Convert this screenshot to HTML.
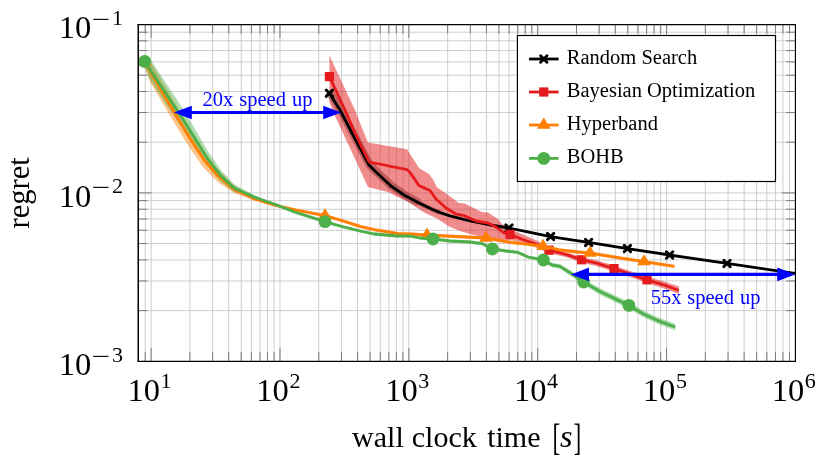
<!DOCTYPE html>
<html><head><meta charset="utf-8"><title>regret vs wall clock time</title>
<style>html,body{margin:0;padding:0;background:#fff;}svg{display:block;}</style></head>
<body>
<svg width="830" height="467" viewBox="0 0 830 467" font-family="'Liberation Serif', serif">
<rect x="0" y="0" width="830" height="467" fill="#fff"/>
<path d="M151.13 24.5V361.3M279.99 24.5V361.3M408.85 24.5V361.3M537.71 24.5V361.3M666.57 24.5V361.3M145.23 24.5V361.3M189.92 24.5V361.3M212.61 24.5V361.3M228.71 24.5V361.3M241.2 24.5V361.3M251.4 24.5V361.3M260.03 24.5V361.3M267.5 24.5V361.3M274.09 24.5V361.3M318.78 24.5V361.3M341.47 24.5V361.3M357.57 24.5V361.3M370.06 24.5V361.3M380.26 24.5V361.3M388.89 24.5V361.3M396.36 24.5V361.3M402.95 24.5V361.3M447.64 24.5V361.3M470.33 24.5V361.3M486.43 24.5V361.3M498.92 24.5V361.3M509.12 24.5V361.3M517.75 24.5V361.3M525.22 24.5V361.3M531.81 24.5V361.3M576.5 24.5V361.3M599.19 24.5V361.3M615.29 24.5V361.3M627.78 24.5V361.3M637.98 24.5V361.3M646.61 24.5V361.3M654.08 24.5V361.3M660.67 24.5V361.3M705.36 24.5V361.3M728.05 24.5V361.3M744.15 24.5V361.3M756.64 24.5V361.3M766.84 24.5V361.3M775.47 24.5V361.3M782.94 24.5V361.3M789.53 24.5V361.3M138.1 192.9H795.4M138.1 142.21H795.4M138.1 112.55H795.4M138.1 91.51H795.4M138.1 75.19H795.4M138.1 61.86H795.4M138.1 50.59H795.4M138.1 40.82H795.4M138.1 32.21H795.4M138.1 310.61H795.4M138.1 280.95H795.4M138.1 259.91H795.4M138.1 243.59H795.4M138.1 230.26H795.4M138.1 218.99H795.4M138.1 209.22H795.4M138.1 200.61H795.4" stroke="#c9c9c9" stroke-width="0.9" fill="none"/>
<path d="M151.13 361.3v-13.5 M151.13 24.5v13.5M279.99 361.3v-13.5 M279.99 24.5v13.5M408.85 361.3v-13.5 M408.85 24.5v13.5M537.71 361.3v-13.5 M537.71 24.5v13.5M666.57 361.3v-13.5 M666.57 24.5v13.5M145.23 361.3v-9.2 M145.23 24.5v9.2M189.92 361.3v-9.2 M189.92 24.5v9.2M212.61 361.3v-9.2 M212.61 24.5v9.2M228.71 361.3v-9.2 M228.71 24.5v9.2M241.2 361.3v-9.2 M241.2 24.5v9.2M251.4 361.3v-9.2 M251.4 24.5v9.2M260.03 361.3v-9.2 M260.03 24.5v9.2M267.5 361.3v-9.2 M267.5 24.5v9.2M274.09 361.3v-9.2 M274.09 24.5v9.2M318.78 361.3v-9.2 M318.78 24.5v9.2M341.47 361.3v-9.2 M341.47 24.5v9.2M357.57 361.3v-9.2 M357.57 24.5v9.2M370.06 361.3v-9.2 M370.06 24.5v9.2M380.26 361.3v-9.2 M380.26 24.5v9.2M388.89 361.3v-9.2 M388.89 24.5v9.2M396.36 361.3v-9.2 M396.36 24.5v9.2M402.95 361.3v-9.2 M402.95 24.5v9.2M447.64 361.3v-9.2 M447.64 24.5v9.2M470.33 361.3v-9.2 M470.33 24.5v9.2M486.43 361.3v-9.2 M486.43 24.5v9.2M498.92 361.3v-9.2 M498.92 24.5v9.2M509.12 361.3v-9.2 M509.12 24.5v9.2M517.75 361.3v-9.2 M517.75 24.5v9.2M525.22 361.3v-9.2 M525.22 24.5v9.2M531.81 361.3v-9.2 M531.81 24.5v9.2M576.5 361.3v-9.2 M576.5 24.5v9.2M599.19 361.3v-9.2 M599.19 24.5v9.2M615.29 361.3v-9.2 M615.29 24.5v9.2M627.78 361.3v-9.2 M627.78 24.5v9.2M637.98 361.3v-9.2 M637.98 24.5v9.2M646.61 361.3v-9.2 M646.61 24.5v9.2M654.08 361.3v-9.2 M654.08 24.5v9.2M660.67 361.3v-9.2 M660.67 24.5v9.2M705.36 361.3v-9.2 M705.36 24.5v9.2M728.05 361.3v-9.2 M728.05 24.5v9.2M744.15 361.3v-9.2 M744.15 24.5v9.2M756.64 361.3v-9.2 M756.64 24.5v9.2M766.84 361.3v-9.2 M766.84 24.5v9.2M775.47 361.3v-9.2 M775.47 24.5v9.2M782.94 361.3v-9.2 M782.94 24.5v9.2M789.53 361.3v-9.2 M789.53 24.5v9.2M138.1 192.9h13.5 M795.4 192.9h-13.5M138.1 142.21h9.2 M795.4 142.21h-9.2M138.1 112.55h9.2 M795.4 112.55h-9.2M138.1 91.51h9.2 M795.4 91.51h-9.2M138.1 75.19h9.2 M795.4 75.19h-9.2M138.1 61.86h9.2 M795.4 61.86h-9.2M138.1 50.59h9.2 M795.4 50.59h-9.2M138.1 40.82h9.2 M795.4 40.82h-9.2M138.1 32.21h9.2 M795.4 32.21h-9.2M138.1 310.61h9.2 M795.4 310.61h-9.2M138.1 280.95h9.2 M795.4 280.95h-9.2M138.1 259.91h9.2 M795.4 259.91h-9.2M138.1 243.59h9.2 M795.4 243.59h-9.2M138.1 230.26h9.2 M795.4 230.26h-9.2M138.1 218.99h9.2 M795.4 218.99h-9.2M138.1 209.22h9.2 M795.4 209.22h-9.2M138.1 200.61h9.2 M795.4 200.61h-9.2" stroke="#707070" stroke-width="0.9" fill="none"/>
<clipPath id="c"><rect x="138.1" y="24.5" width="657.3" height="336.8"/></clipPath>
<g clip-path="url(#c)">
<polyline points="329.4,93.2 340,110 352,133 369,165 376,172 391,186 404,195 418,202.6" fill="none" stroke="#000" stroke-opacity="0.36" stroke-width="8.2" stroke-linejoin="round" transform="translate(0.8 0)"/>
<polyline points="418,202.6 432,209.3 440,212.6" fill="none" stroke="#000" stroke-opacity="0.36" stroke-width="4.6" stroke-linejoin="round"/>
<polygon points="329.4,55.6 355,110 364,133 368,142.5 407,149.3 419,168 429,174 433.4,180 437,187.2 449.1,195.7 458.7,202.9 464.8,203.5 473.2,207.7 481.6,211.9 487.7,212.5 497.3,218.6 502.1,224 507,227.5 518,232.6 530,237.4 536,240.3 549,247 566,252 581.6,257 596,260 614,265.6 630,271 647,276.6 664,281.5 679,286.5 679,294 664,288.5 647,283 630,277 614,271.6 596,266 581.6,262.6 566,257 549,253.4 540,249.3 530,245 518,241.2 512,240.5 500,240.5 487,238.5 473,234.8 461,231.2 449,226.4 437,218.6 425,213.1 408,202 388,192 368,187 343,133 334,114 329.4,102" fill="#e41a1c" fill-opacity="0.5"/>
<polygon points="144.6,56.45 147.23,58.5 149.86,60.55 152.49,64.88 155.12,69.35 157.75,73.81 160.38,78.27 163.02,82.73 165.65,87.19 168.28,91.65 170.91,96.12 173.54,100.58 176.17,105.04 178.8,109.5 181.7,114.38 184.6,119.34 187.5,124.31 190.4,129.28 193.08,133.6 195.76,137.92 198.44,142.24 201.12,146.65 203.8,151.17 206.64,154.86 209.48,158.54 212.32,162.23 215.16,165.91 218,169.6 220.67,172.22 223.33,174.83 226,177.45 228.67,180.07 231.33,182.68 234,185.3 236.5,186.85 239,188.4 241.5,189.82 244,191.15 246.5,192.49 249,193.82 251.5,195.16 254,196.49 256.5,197.45 259,198.41 261.5,199.37 264,200.2 266.5,201 269,201.8 271.5,202.6 274,203.4 276.75,204.03 279.5,204.65 282.25,205.28 285,205.9 287.75,206.53 290.5,207.15 293.25,207.78 296,208.4 298.64,208.91 301.27,209.42 303.91,209.93 306.55,210.44 309.18,210.95 311.82,211.45 314.45,211.96 317.09,212.47 319.73,212.98 322.36,213.49 325,214 327.5,214.73 330,215.47 332.5,216.2 335,216.93 337.5,217.67 340,218.4 342.5,219.2 345,220 347.5,220.8 350,221.6 352.5,222.4 355,223.2 357.5,224 360,224.8 362.8,225.44 365.6,226.08 368.4,226.72 371.2,227.36 374,228 376.67,228.44 379.33,228.89 382,229.33 384.67,229.78 387.33,230.22 390,230.67 392.67,231.11 395.33,231.56 398,232 401,232.1 404,232.2 407,232.3 410,232.4 412.83,232.57 415.67,232.73 418.5,232.9 421.33,233.07 424.17,233.23 427,233.4 429.71,233.54 432.43,233.69 435.14,233.83 437.86,233.97 440.57,234.11 443.29,234.26 446,234.4 448.5,234.53 451,234.65 453.5,234.78 456,234.9 458.5,235.03 461,235.15 463.5,235.28 466,235.4 468.5,235.53 471,235.65 473.5,235.78 476,235.9 478.5,236.03 481,236.15 483.5,236.28 486,236.4 488.67,236.89 491.33,237.38 494,237.87 496.67,238.36 499.33,238.84 502,239.33 504.67,239.82 507.33,240.31 510,240.8 512.67,241.07 515.33,241.33 518,241.6 520.67,241.87 523.33,242.13 526,242.4 528.83,242.77 531.67,243.13 534.5,243.5 537.33,243.87 540.17,244.23 543,244.6 545.83,245.23 548.67,245.87 551.5,246.5 554.33,247.13 557.17,247.77 560,248.4 562.57,248.69 565.14,248.97 567.71,249.26 570.29,249.54 572.86,249.83 575.43,250.11 578,250.4 581,250.65 584,250.9 587,251.15 590,251.4 592.5,251.82 595,252.23 597.5,252.65 600,253.07 602.5,253.48 605,253.9 607.5,254.32 610,254.73 612.5,255.15 615,255.57 617.5,255.98 620,256.4 622.67,256.8 625.33,257.2 628,257.6 630.67,258 633.33,258.4 636,258.8 638.67,259.2 641.33,259.6 644,260 646.53,260.4 649.07,260.8 651.6,261.2 654.13,261.6 656.67,262 659.2,262.4 661.73,262.8 664.27,263.2 666.8,263.6 669.33,264 671.87,264.4 674.4,264.8 674.4,268 671.87,267.6 669.33,267.2 666.8,266.8 664.27,266.4 661.73,266 659.2,265.6 656.67,265.2 654.13,264.8 651.6,264.4 649.07,264 646.53,263.6 644,263.2 641.33,262.8 638.67,262.4 636,262 633.33,261.6 630.67,261.2 628,260.8 625.33,260.4 622.67,260 620,259.6 617.5,259.18 615,258.77 612.5,258.35 610,257.93 607.5,257.52 605,257.1 602.5,256.68 600,256.27 597.5,255.85 595,255.43 592.5,255.02 590,254.6 587,254.35 584,254.1 581,253.85 578,253.6 575.43,253.31 572.86,253.03 570.29,252.74 567.71,252.46 565.14,252.17 562.57,251.89 560,251.6 557.17,250.97 554.33,250.33 551.5,249.7 548.67,249.07 545.83,248.43 543,247.8 540.17,247.43 537.33,247.07 534.5,246.7 531.67,246.33 528.83,245.97 526,245.6 523.33,245.33 520.67,245.07 518,244.8 515.33,244.53 512.67,244.27 510,244 507.33,243.51 504.67,243.02 502,242.53 499.33,242.04 496.67,241.56 494,241.07 491.33,240.58 488.67,240.09 486,239.6 483.5,239.47 481,239.35 478.5,239.22 476,239.1 473.5,238.97 471,238.85 468.5,238.72 466,238.6 463.5,238.47 461,238.35 458.5,238.22 456,238.1 453.5,237.97 451,237.85 448.5,237.72 446,237.6 443.29,237.46 440.57,237.31 437.86,237.17 435.14,237.03 432.43,236.89 429.71,236.74 427,236.6 424.17,236.43 421.33,236.27 418.5,236.1 415.67,235.93 412.83,235.77 410,235.6 407,235.5 404,235.4 401,235.3 398,235.2 395.33,234.76 392.67,234.31 390,233.87 387.33,233.42 384.67,232.98 382,232.53 379.33,232.09 376.67,231.64 374,231.2 371.2,230.56 368.4,229.92 365.6,229.28 362.8,228.64 360,228 357.5,227.2 355,226.4 352.5,225.6 350,224.8 347.5,224 345,223.2 342.5,222.4 340,221.6 337.5,220.87 335,220.13 332.5,219.4 330,218.67 327.5,217.93 325,217.2 322.36,216.69 319.73,216.18 317.09,215.67 314.45,215.16 311.82,214.65 309.18,214.15 306.55,213.64 303.91,213.13 301.27,212.62 298.64,212.11 296,211.6 293.25,210.97 290.5,210.35 287.75,209.72 285,209.1 282.25,208.47 279.5,207.85 276.75,207.22 274,206.6 271.5,205.8 269,205 266.5,204.2 264,203.4 261.5,202.63 259,201.99 256.5,201.35 254,200.71 251.5,199.69 249,198.68 246.5,197.66 244,196.65 241.5,195.63 239,194.7 236.5,193.9 234,193.1 231.33,191.28 228.67,189.47 226,187.65 223.33,185.83 220.67,184.02 218,182.2 215.16,179.37 212.32,176.53 209.48,173.7 206.64,170.86 203.8,168.03 201.12,164.31 198.44,160.48 195.76,156.56 193.08,152.64 190.4,148.72 187.5,144.19 184.6,139.66 181.7,135.12 178.8,130.5 176.17,126.04 173.54,121.58 170.91,117.12 168.28,112.65 165.65,108.19 163.02,103.73 160.38,99.27 157.75,94.81 155.12,90.35 152.49,85.88 149.86,81.3 147.23,74.42 144.6,67.55" fill="#ff7f00" fill-opacity="0.45"/>
<polygon points="144.6,55.85 147.19,57.38 149.79,58.91 152.38,62.62 154.97,66.53 157.57,70.43 160.16,74.34 162.75,78.25 165.35,82.15 167.94,86.06 170.53,89.97 173.13,93.87 175.72,97.78 178.31,101.69 180.91,105.66 183.5,109.76 186,113.95 188.5,118.14 191,122.33 193.5,126.51 196,130.7 198.95,135.67 201.9,140.78 204.85,145.98 207.8,151.17 210.44,154.97 213.08,158.76 215.72,162.56 218.36,166.35 221,170.15 223.6,172.94 226.2,175.73 228.8,178.52 231.4,181.31 234,184.1 236.5,185.6 239,187.1 241.5,188.47 244,189.75 246.5,191.04 249,192.32 251.5,193.61 254,194.89 256.5,195.93 259,196.96 261.5,197.99 264,198.9 266.5,199.78 269,200.65 271.5,201.53 274,202.4 276.75,203.46 279.5,204.53 282.25,205.59 285,206.65 287.75,207.71 290.5,208.78 293.25,209.84 296,210.9 298.64,211.73 301.27,212.55 303.91,213.38 306.55,214.21 309.18,215.04 311.82,215.86 314.45,216.69 317.09,217.52 319.73,218.35 322.36,219.17 325,220 327.5,220.73 330,221.47 332.5,222.2 335,222.93 337.5,223.67 340,224.4 342.5,225.03 345,225.65 347.5,226.28 350,226.9 352.5,227.53 355,228.15 357.5,228.78 360,229.4 362.8,230 365.6,230.6 368.4,231.2 371.2,231.8 374,232.4 376.67,232.62 379.33,232.84 382,233.07 384.67,233.29 387.33,233.51 390,233.73 392.67,233.96 395.33,234.18 398,234.4 401,234.4 404,234.4 407,234.4 410,234.4 412.5,234.9 415,235.4 417.5,235.9 420,236.4 422.6,236.6 425.2,236.8 427.8,237 430.4,237.2 433,237.4 435.83,237.73 438.67,238.07 441.5,238.4 444.33,238.73 447.17,239.07 450,239.4 452.5,239.53 455,239.65 457.5,239.78 460,239.9 462.5,240.03 465,240.15 467.5,240.28 470,240.4 473,240.8 476,241.2 479,241.6 482,242 484.6,243.35 487.2,244.7 489.8,246.05 492.4,247.4 495.12,247.8 497.84,248.2 500.56,248.6 503.28,249 506,249.4 509,249.75 512,250.1 515,250.45 518,250.8 520.5,251.95 523,253.1 525.5,254.25 528,255.4 530.57,255.89 533.13,256.32 535.7,256.76 538.27,257.2 540.83,257.64 543.4,258.07 546.27,259.67 549.13,261.27 552,262.87 554.67,263.27 557.33,263.67 560,264.07 563,265.9 566,267.73 569,269.55 572,271.38 574.9,273.31 577.8,275.24 580.7,277.17 583.6,279.1 586.33,280.62 589.07,282.13 591.8,283.65 594.53,285.17 597.27,286.68 600,288.2 602.63,289.46 605.25,290.73 607.88,291.99 610.51,293.25 613.14,294.52 615.76,295.78 618.39,297.05 621.02,298.31 623.65,299.57 626.27,300.84 628.9,302.1 631.8,303.82 634.7,305.54 637.6,307.26 640.5,308.98 643.4,310.7 646.28,312.02 649.16,313.34 652.04,314.66 654.92,315.98 657.8,317.3 660.7,318.37 663.6,319.43 666.5,320.5 669.4,321.57 672.3,322.63 675.2,323.7 675.2,330.3 672.3,329.23 669.4,328.17 666.5,327.1 663.6,326.03 660.7,324.97 657.8,323.9 654.92,322.58 652.04,321.26 649.16,319.94 646.28,318.62 643.4,317.3 640.5,315.58 637.6,313.86 634.7,312.14 631.8,310.42 628.9,308.7 626.27,307.44 623.65,306.17 621.02,304.91 618.39,303.65 615.76,302.38 613.14,301.12 610.51,299.85 607.88,298.59 605.25,297.33 602.63,296.06 600,294.8 597.27,293.15 594.53,291.5 591.8,289.85 589.07,288.2 586.33,286.55 583.6,284.9 580.7,282.83 577.8,280.76 574.9,278.69 572,276.62 569,274.65 566,272.67 563,270.7 560,268.73 557.33,268.2 554.67,267.67 552,267.13 549.13,265.4 546.27,263.66 543.4,261.93 540.83,261.36 538.27,260.8 535.7,260.24 533.13,259.68 530.57,259.11 528,258.6 525.5,257.45 523,256.3 520.5,255.15 518,254 515,253.65 512,253.3 509,252.95 506,252.6 503.28,252.2 500.56,251.8 497.84,251.4 495.12,251 492.4,250.6 489.8,249.25 487.2,247.9 484.6,246.55 482,245.2 479,244.8 476,244.4 473,244 470,243.6 467.5,243.47 465,243.35 462.5,243.22 460,243.1 457.5,242.97 455,242.85 452.5,242.72 450,242.6 447.17,242.27 444.33,241.93 441.5,241.6 438.67,241.27 435.83,240.93 433,240.6 430.4,240.4 427.8,240.2 425.2,240 422.6,239.8 420,239.6 417.5,239.1 415,238.6 412.5,238.1 410,237.6 407,237.6 404,237.6 401,237.6 398,237.6 395.33,237.38 392.67,237.16 390,236.93 387.33,236.71 384.67,236.49 382,236.27 379.33,236.04 376.67,235.82 374,235.6 371.2,235 368.4,234.4 365.6,233.8 362.8,233.2 360,232.6 357.5,231.97 355,231.35 352.5,230.72 350,230.1 347.5,229.47 345,228.85 342.5,228.22 340,227.6 337.5,226.87 335,226.13 332.5,225.4 330,224.67 327.5,223.93 325,223.2 322.36,222.37 319.73,221.55 317.09,220.72 314.45,219.89 311.82,219.06 309.18,218.24 306.55,217.41 303.91,216.58 301.27,215.75 298.64,214.93 296,214.1 293.25,213.04 290.5,211.97 287.75,210.91 285,209.85 282.25,208.79 279.5,207.72 276.75,206.66 274,205.6 271.5,204.72 269,203.85 266.5,202.97 264,202.1 261.5,201.26 259,200.54 256.5,199.82 254,199.11 251.5,198.14 249,197.18 246.5,196.21 244,195.25 241.5,194.28 239,193.4 236.5,192.65 234,191.9 231.4,189.89 228.8,187.88 226.2,185.87 223.6,183.86 221,181.85 218.36,178.85 215.72,175.84 213.08,172.84 210.44,169.83 207.8,166.83 204.85,162.52 201.9,158.22 198.95,153.83 196,149.3 193.5,145.49 191,141.68 188.5,137.86 186,134.05 183.5,130.24 180.91,126.53 178.31,122.69 175.72,118.78 173.13,114.87 170.53,110.97 167.94,107.06 165.35,103.15 162.75,99.25 160.16,95.34 157.57,91.43 154.97,87.53 152.38,83.62 149.79,79.52 147.19,73.23 144.6,66.95" fill="#4daf4a" fill-opacity="0.45"/>
<polyline points="329.4,93.2 340,110 352,133 369,165 376,172 391,186 404,195 418,202.6 432,209.3 440,212.6 450,215.8 470,221 490,225 509,228 530,232.4 550.6,236.6 570,239.6 588.6,242.4 627.4,248.6 669.6,255 727,263.4 795,273.4" fill="none" stroke="#000" stroke-width="2.8" stroke-linejoin="round"/>
<path d="M326.2 90l6.4 6.4M326.2 96.4l6.4 -6.4" stroke="#000" stroke-width="2.9" stroke-linecap="round" fill="none"/>
<path d="M505.8 224.8l6.4 6.4M505.8 231.2l6.4 -6.4" stroke="#000" stroke-width="2.9" stroke-linecap="round" fill="none"/>
<path d="M547.4 233.4l6.4 6.4M547.4 239.8l6.4 -6.4" stroke="#000" stroke-width="2.9" stroke-linecap="round" fill="none"/>
<path d="M585.4 239.2l6.4 6.4M585.4 245.6l6.4 -6.4" stroke="#000" stroke-width="2.9" stroke-linecap="round" fill="none"/>
<path d="M624.2 245.4l6.4 6.4M624.2 251.8l6.4 -6.4" stroke="#000" stroke-width="2.9" stroke-linecap="round" fill="none"/>
<path d="M666.4 251.8l6.4 6.4M666.4 258.2l6.4 -6.4" stroke="#000" stroke-width="2.9" stroke-linecap="round" fill="none"/>
<path d="M723.8 260.2l6.4 6.4M723.8 266.6l6.4 -6.4" stroke="#000" stroke-width="2.9" stroke-linecap="round" fill="none"/>
<polyline points="329.4,76.6 345,110 355,133 369,162 407,169.6 410,172.4 419,185.6 430,190.5 436,199 446,208 456,214 464,215.6 476,221 488,223 496,227 504,233 510,234.4 524,240 536,244 549,250.2 566,254.5 581.6,259.8 596,263 614,268.6 630,274 647,279.8 664,285 678.6,290.2" fill="none" stroke="#e41a1c" stroke-width="2.8" stroke-linejoin="round"/>
<rect x="324.8" y="72" width="9.2" height="9.2" fill="#e41a1c"/>
<rect x="505.4" y="229.8" width="9.2" height="9.2" fill="#e41a1c"/>
<rect x="544.4" y="245.6" width="9.2" height="9.2" fill="#e41a1c"/>
<rect x="577" y="255.2" width="9.2" height="9.2" fill="#e41a1c"/>
<rect x="609.4" y="264" width="9.2" height="9.2" fill="#e41a1c"/>
<rect x="642.4" y="275.2" width="9.2" height="9.2" fill="#e41a1c"/>
<polyline points="144.6,62 178.8,120 190.4,139 203.8,159.6 218,175.9 234,189.2 254,198.6 274,205 296,210 325,215.6 340,220 360,226.4 374,229.6 398,233.6 410,234 427,235 446,236 486,238 510,242.4 526,244 543,246.2 560,250 578,252 590,253 620,258 644,261.6 674.4,266.4" fill="none" stroke="#ff7f00" stroke-width="2.8" stroke-linejoin="round"/>
<polygon points="144.6,54.53 137.8,65.73 151.4,65.73" fill="#ff7f00"/>
<polygon points="325,208.13 318.2,219.33 331.8,219.33" fill="#ff7f00"/>
<polygon points="427,227.53 420.2,238.73 433.8,238.73" fill="#ff7f00"/>
<polygon points="486,230.53 479.2,241.73 492.8,241.73" fill="#ff7f00"/>
<polygon points="543,238.73 536.2,249.93 549.8,249.93" fill="#ff7f00"/>
<polygon points="590,245.53 583.2,256.73 596.8,256.73" fill="#ff7f00"/>
<polygon points="644,254.13 637.2,265.33 650.8,265.33" fill="#ff7f00"/>
<polyline points="144.6,61.4 183.5,120 196,140 207.8,159 221,176 234,188 254,197 274,204 296,212.5 325,221.6 340,226 360,231 374,234 398,236 410,236 420,238 433,239 450,241 470,242 482,243.6 492.4,249 506,251 518,252.4 528,257 543.4,260 552,265 560,266.4 572,274 583.6,282 600,291.5 628.9,305.4 643.4,314 657.8,320.6 675.2,327" fill="none" stroke="#4daf4a" stroke-width="2.8" stroke-linejoin="round"/>
<circle cx="144.6" cy="61.4" r="6.4" fill="#4daf4a"/>
<circle cx="325" cy="221.6" r="6.4" fill="#4daf4a"/>
<circle cx="433" cy="239" r="6.4" fill="#4daf4a"/>
<circle cx="492.4" cy="249" r="6.4" fill="#4daf4a"/>
<circle cx="543.4" cy="260" r="6.4" fill="#4daf4a"/>
<circle cx="583.6" cy="282" r="6.4" fill="#4daf4a"/>
<circle cx="628.9" cy="305.4" r="6.4" fill="#4daf4a"/>
</g>
<path d="M137.6 24.55H796M137.6 361.38H796M795.43 24.55V361.38" stroke="#000" stroke-width="1.15" fill="none"/>
<path d="M138.25 24V361.9" stroke="#000" stroke-width="1.5" fill="none"/>
<rect x="517.4" y="35.5" width="258.1" height="146" fill="#fff" stroke="#000" stroke-width="1.2"/>
<path d="M529 59H558.6" stroke="#000" stroke-width="2.8"/>
<path d="M540.6 55.8l6.4 6.4M540.6 62.2l6.4 -6.4" stroke="#000" stroke-width="2.9" stroke-linecap="round" fill="none"/>
<text x="566.8" y="63.6" font-size="20.5" fill="#000">Random Search</text>
<path d="M529 92H558.6" stroke="#e41a1c" stroke-width="2.8"/>
<rect x="539.2" y="87.4" width="9.2" height="9.2" fill="#e41a1c"/>
<text x="566.8" y="97" font-size="20.5" fill="#000">Bayesian Optimization</text>
<path d="M529 125H558.6" stroke="#ff7f00" stroke-width="2.8"/>
<polygon points="543.8,117.53 537,128.73 550.6,128.73" fill="#ff7f00"/>
<text x="566.8" y="130.2" font-size="20.5" fill="#000">Hyperband</text>
<path d="M529 158.4H558.6" stroke="#4daf4a" stroke-width="2.8"/>
<circle cx="543.8" cy="158.4" r="6.4" fill="#4daf4a"/>
<text x="566.8" y="163" font-size="20.5" fill="#000">BOHB</text>
<path d="M188.8 112.5H326.2" stroke="#0000ff" stroke-width="3.2"/>
<polygon points="173.8,112.5 191.8,105.7 191.8,119.3" fill="#0000ff"/>
<polygon points="341.2,112.5 323.2,105.7 323.2,119.3" fill="#0000ff"/>
<path d="M586 274.4H780.2" stroke="#0000ff" stroke-width="3.2"/>
<polygon points="571,274.4 589,267.6 589,281.2" fill="#0000ff"/>
<polygon points="795.2,274.4 777.2,267.6 777.2,281.2" fill="#0000ff"/>
<text y="106.2" font-size="20.5" fill="#0000ff"><tspan x="202.4">20x</tspan> <tspan x="239.3">speed</tspan> <tspan x="292.1">up</tspan></text>
<text y="304.3" font-size="20.5" fill="#0000ff"><tspan x="650.7">55x</tspan> <tspan x="687.3">speed</tspan> <tspan x="739.9">up</tspan></text>
<text x="127.43" y="400.8" font-size="32.5" fill="#000">10</text>
<text x="160.53" y="387.8" font-size="22" fill="#000">1</text>
<text x="256.29" y="400.8" font-size="32.5" fill="#000">10</text>
<text x="289.39" y="387.8" font-size="22" fill="#000">2</text>
<text x="385.15" y="400.8" font-size="32.5" fill="#000">10</text>
<text x="418.25" y="387.8" font-size="22" fill="#000">3</text>
<text x="514.01" y="400.8" font-size="32.5" fill="#000">10</text>
<text x="547.11" y="387.8" font-size="22" fill="#000">4</text>
<text x="642.87" y="400.8" font-size="32.5" fill="#000">10</text>
<text x="675.97" y="387.8" font-size="22" fill="#000">5</text>
<text x="771.73" y="400.8" font-size="32.5" fill="#000">10</text>
<text x="804.83" y="387.8" font-size="22" fill="#000">6</text>
<text x="58.8" y="38.3" font-size="32.5" fill="#000">10</text>
<text transform="translate(91.7 26.9) scale(1.42 1)" font-size="23" fill="#000">−</text>
<text x="112" y="24.9" font-size="22" fill="#000">1</text>
<text x="58.8" y="206.7" font-size="32.5" fill="#000">10</text>
<text transform="translate(91.7 195.3) scale(1.42 1)" font-size="23" fill="#000">−</text>
<text x="112" y="193.3" font-size="22" fill="#000">2</text>
<text x="58.8" y="375.1" font-size="32.5" fill="#000">10</text>
<text transform="translate(91.7 363.7) scale(1.42 1)" font-size="23" fill="#000">−</text>
<text x="112" y="361.7" font-size="22" fill="#000">3</text>
<text y="446.8" font-size="30" fill="#000"><tspan x="352.1">wall</tspan> <tspan x="411.8">clock</tspan> <tspan x="487.2">time</tspan></text>
<text transform="translate(552.5 450.2) scale(0.62 1)" font-size="37.7" fill="#000">[</text>
<text x="560" y="446.8" font-size="32" font-style="italic" fill="#000">s</text>
<text transform="translate(573.6 450.2) scale(0.62 1)" font-size="37.7" fill="#000">]</text>
<text transform="translate(28.7 228.4) rotate(-90)" font-size="30.5" fill="#000">regret</text>
</svg>
</body></html>
